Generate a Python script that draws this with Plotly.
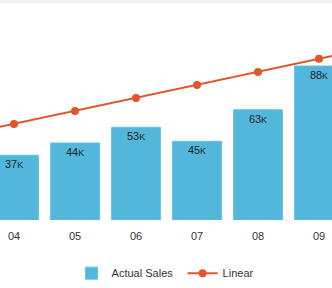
import plotly.graph_objects as go

months = ["03", "04", "05", "06", "07", "08", "09", "10"]
actual_sales = [None, 37, 44, 53, 45, 63, 88, None]
linear = [47.5, 54.9, 62.3, 69.7, 77.1, 84.6, 92.2, 99.6]
label_text = ["" if v is None else f"{v}<span style='font-size:9px'>K</span>" for v in actual_sales]

fig = go.Figure()
fig.add_trace(go.Bar(
    x=months, y=actual_sales, name="Actual Sales",
    marker=dict(color="#53b7dc", line=dict(color="#5fc3e6", width=1)),
    text=label_text, textposition="inside", insidetextanchor="end",
    textfont=dict(color="#222", size=11, family="Liberation Sans, Arial"),
    textangle=0, cliponaxis=False,
))
fig.add_trace(go.Scatter(
    x=months, y=linear, name="Linear", mode="lines+markers",
    line=dict(color="#e2552a", width=2),
    marker=dict(color="#e2552a", size=8),
))

fig.update_layout(
    width=332, height=288,
    margin=dict(l=0, r=0, t=3, b=68),
    paper_bgcolor="white", plot_bgcolor="white",
    bargap=0.2,
    showlegend=True,
    legend=dict(orientation="h", x=0.55, xanchor="center", y=-0.245, yanchor="middle",
                font=dict(size=11, color="#333", family="Liberation Sans, Arial"),
                itemwidth=30, entrywidth=66, entrywidthmode="pixels"),
    xaxis=dict(type="category", range=[0.770, 6.213], showgrid=False, zeroline=False,
               showline=False, ticks="", ticklabelstandoff=8,
               tickfont=dict(size=11, color="#333", family="Liberation Sans, Arial")),
    yaxis=dict(range=[0, 124], visible=False, showgrid=False),
    uniformtext=dict(minsize=8, mode="show"),
    shapes=[dict(type="rect", xref="paper", yref="paper", x0=0, x1=1, y0=1, y1=1.0138,
                 fillcolor="#eef2f8", line=dict(width=0), layer="above")],
)

fig.write_html("out.html")
